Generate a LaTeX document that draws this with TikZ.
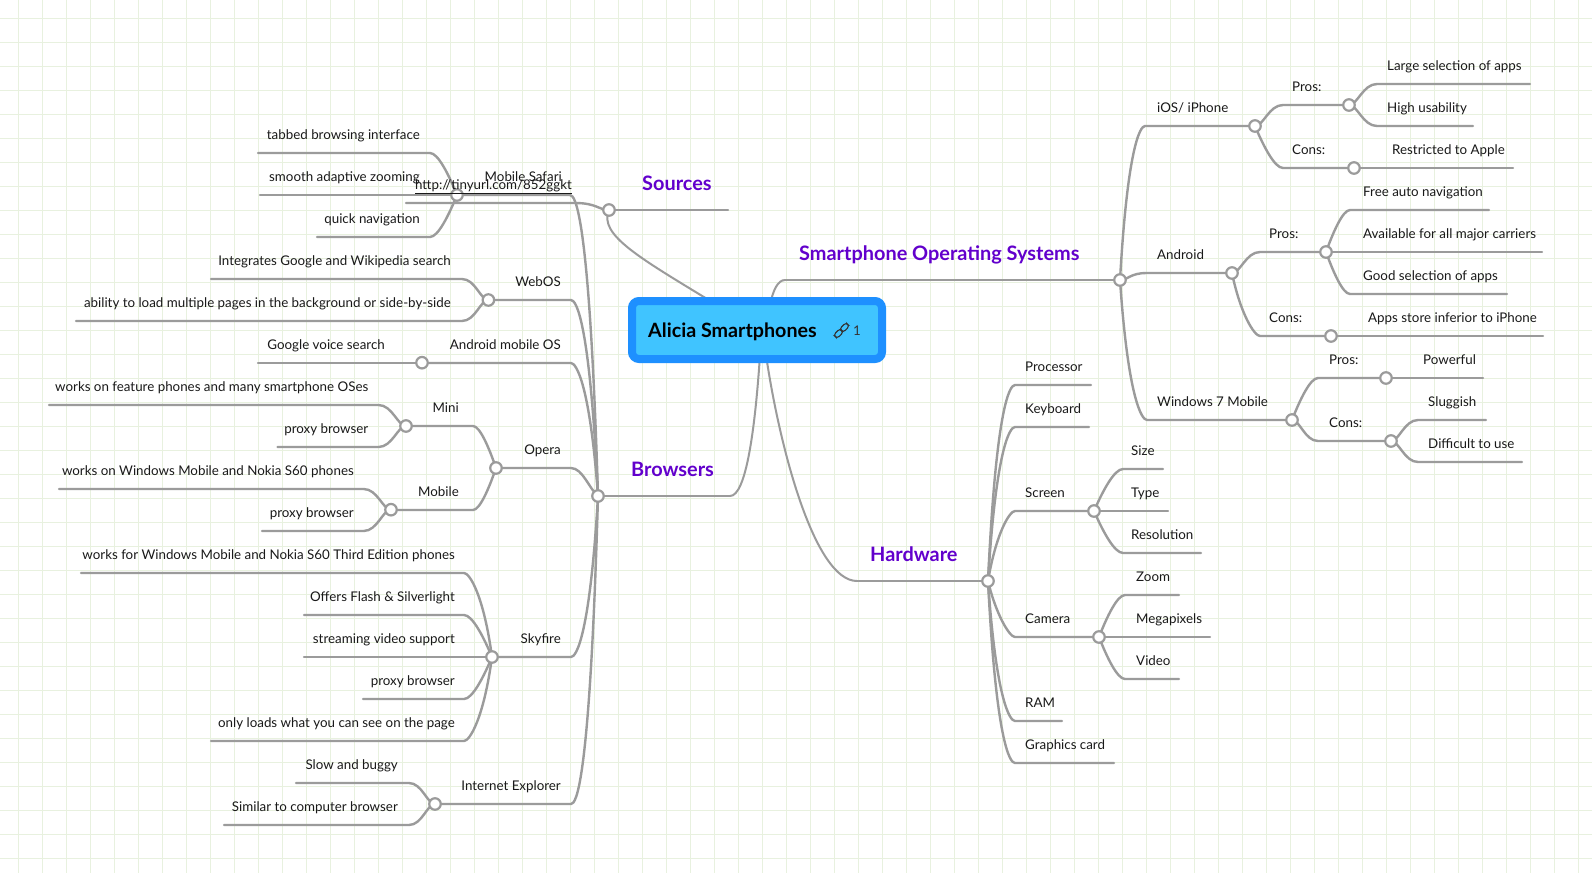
\documentclass[tikz,border=0pt]{standalone}
\usepackage{fontspec}
\setmainfont{Lato}
\usetikzlibrary{calc}
\pgfdeclarelayer{lines}
\pgfsetlayers{lines,main}
\definecolor{gridcol}{HTML}{E8F1DF}
\definecolor{linecol}{HTML}{9B9B9B}
\definecolor{topiccol}{HTML}{6200CC}
\definecolor{rootout}{HTML}{1E90FF}
\definecolor{rootin}{HTML}{40C4FF}
\tikzstyle{gridline}=[
        draw=gridcol,
        line width=1pt
]
\tikzstyle{branch}=[
        draw=linecol,
        line width=2.4pt,
        line cap=round
]
\tikzstyle{rootbranch}=[
        draw=linecol,
        line width=2pt
]
\tikzstyle{hub}=[
        circle,
        draw=linecol,
        fill=white,
        line width=2.2pt,
        inner sep=0pt,
        minimum size=11.5pt
]
\tikzstyle{leaf}=[
        inner sep=0pt,
        text=black!90,
        font=\fontsize{13.35}{16}\selectfont
]
\tikzstyle{topic}=[
        inner sep=0pt,
        text=topiccol,
        font=\fontsize{19.9}{22}\selectfont\bfseries
]
\tikzstyle{rootbox}=[
        rounded corners=7pt,
        draw=rootout,
        fill=rootin,
        line width=8pt,
        minimum width=250pt,
        minimum height=58pt
]
\tikzstyle{chainlink}=[
        rounded corners=2.8pt,
        draw=black!80,
        line width=1.1pt,
        minimum width=9pt,
        minimum height=5pt,
        inner sep=0pt
]
\tikzset{
    curved/.style={to path={
        let \p1=(\tikztostart), \p2=(\tikztotarget),
            \n1={(\y2-\y1)-sign(\y2-\y1)*min(22,abs(\y2-\y1))},
            \n2={max(0.2,0.7-abs(\y2-\y1)/105)} in
        .. controls ({\x1+0.3*(\x2-\x1)},{\y1+\n1*1pt}) and ({\x2-\n2*(\x2-\x1)},\y2) .. (\tikztotarget)}}
}
\begin{document}
\begin{tikzpicture}[x=1pt,y=-1pt]
    \useasboundingbox (0,0) rectangle (1592,873);

    \begin{pgfonlayer}{lines}
        \fill[white] (0,0) rectangle (1592,873);
        \foreach \i in {0,...,65} {
            \draw[gridline] ({18.3+24*\i},0) -- ({18.3+24*\i},873);
        }
        \foreach \i in {0,...,35} {
            \draw[gridline] (0,{18.3+24*\i}) -- (1592,{18.3+24*\i});
        }
    \end{pgfonlayer}

    \node[rootbox] (root) at (757,330) {};
    \node[anchor=base west, inner sep=0pt, font=\fontsize{19.7}{24}\selectfont\bfseries] (title) at (648,337) {Alicia Smartphones};
    \node[chainlink, rotate=45] (link1) at (838.5,333.5) {};
    \node[chainlink, rotate=45] (link2) at (844.5,327.5) {};
    \node[anchor=base west, inner sep=0pt, text=black!80, font=\fontsize{13.35}{16}\selectfont] (count) at (853,335) {1};

    % hubs
    \foreach \nm/\x/\y in {hos/1120/280, hios/1255/126, hipros/1349/105, hicons/1354/168,
                           hand/1232/273, hapros/1326/252, hacons/1331/336,
                           hwin/1292/420, hwpros/1386/378, hwcons/1391/441,
                           hhw/988/581, hscr/1094/511, hcam/1099/637,
                           hsrc/609/210, hbr/598/496, hsaf/457/195, hweb/488.4/300,
                           hgoog/422/362.7, hop/496/468, hmini/406/426, hmob/391/509.7,
                           hsky/492/657, hie/435/804} {
        \node[hub] (\nm) at (\x,\y) {};
    }

    % topics
    \node[topic, anchor=base west] (sources) at (642,190) {Sources};
    \node[topic, anchor=base west] (osys) at (799,260) {Smartphone Operating Systems};
    \node[topic, anchor=base west] (browsers) at (631,476) {Browsers};
    \node[topic, anchor=base west] (hardware) at (870,561) {Hardware};

    \coordinate (srcend) at (728,210);
    \coordinate (osa) at (785,280);
    \coordinate (bra) at (730,496);
    \coordinate (hwa) at (857,581);

    \begin{pgfonlayer}{lines}
        \draw[branch] (hsrc.center) -- (srcend);
        \draw[rootbranch] (hsrc.center) .. controls (598,235) and (640,258) .. ([xshift=-40pt,yshift=-8pt]root.north);
        \draw[rootbranch] ([xshift=13pt,yshift=-8pt]root.north) .. controls (773,290) and (778,280) .. (osa);
        \draw[branch] (osa) -- (hos.center);
        \draw[rootbranch] ([xshift=3pt,yshift=8pt]root.south) .. controls (755,430) and (746,496) .. (bra);
        \draw[branch] (bra) -- (hbr.center);
        \draw[rootbranch] ([xshift=9pt,yshift=8pt]root.south) .. controls (780,450) and (815,581) .. (hwa);
        \draw[branch] (hwa) -- (hhw.center);
    \end{pgfonlayer}

    % branches and their texts
    \foreach \nm/\up/\ax/\ay/\ex/\side/\tx/\txt in {
        ios/hos/1145/126/1255/west/1157/{iOS/ iPhone},
        ipros/hios/1283/105/1349/west/1292/Pros:,
        ilarge/hipros/1377/84/1530/west/1387/Large selection of apps,
        iusab/hipros/1377/126/1473/west/1387/High usability,
        icons/hios/1283/168/1354/west/1292/Cons:,
        irestr/hicons/1354/168/1513/west/1392/Restricted to Apple,
        and/hos/1147/273/1232/west/1157/Android,
        apros/hand/1260/252/1326/west/1269/Pros:,
        afree/hapros/1350/210/1489/west/1363/Free auto navigation,
        avail/hapros/1326/252/1542/west/1363/Available for all major carriers,
        agood/hapros/1350/294/1507/west/1363/Good selection of apps,
        acons/hand/1260/336/1331/west/1269/Cons:,
        astore/hacons/1331/336/1543/west/1368/Apps store inferior to iPhone,
        win/hos/1147/420/1292/west/1157/Windows 7 Mobile,
        wpros/hwin/1318/378/1386/west/1329/Pros:,
        wpow/hwpros/1386/378/1483/west/1423/Powerful,
        wcons/hwin/1318/441/1391/west/1329/Cons:,
        wslug/hwcons/1418/420/1486/west/1428/Sluggish,
        wdiff/hwcons/1418/462/1522/west/1428/Difficult to use,
        proc/hhw/1015/385/1091/west/1025/Processor,
        keyb/hhw/1015/427/1089/west/1025/Keyboard,
        scr/hhw/1015/511/1094/west/1025/Screen,
        ssize/hscr/1123/469/1163/west/1131/Size,
        stype/hscr/1094/511/1168/west/1131/Type,
        sres/hscr/1123/553/1201/west/1131/Resolution,
        cam/hhw/1015/637/1099/west/1025/Camera,
        czoom/hcam/1125/595/1179/west/1136/Zoom,
        cmega/hcam/1099/637/1210/west/1136/Megapixels,
        cvid/hcam/1125/679/1179/west/1136/Video,
        ram/hhw/1015/721/1062/west/1025/RAM,
        gfx/hhw/1015/763/1114/west/1025/Graphics card,
        url/hsrc/575/203/406/east/572/{\underline{http://tinyurl.com/852ggkt}},
        saf/hbr/570/195/457/east/562/Mobile Safari,
        stab/hsaf/430/153/258/east/420/tabbed browsing interface,
        szoom/hsaf/457/195/260/east/420/smooth adaptive zooming,
        snav/hsaf/430/237/317/east/420/quick navigation,
        web/hbr/571/300/488.4/east/561/WebOS,
        wint/hweb/462/279/211/east/451/Integrates Google and Wikipedia search,
        wload/hweb/462/321/76/east/451/ability to load multiple pages in the background or side-by-side,
        goog/hbr/571/363/422/east/561/Android mobile OS,
        gvoi/hgoog/422/363/258/east/385/Google voice search,
        oper/hbr/571/468/496/east/561/Opera,
        mini/hop/473/426/406/east/459/Mini,
        mfeat/hmini/378.5/405/49/east/368.5/works on feature phones and many smartphone OSes,
        mprox/hmini/378.5/447/277.5/east/368.5/proxy browser,
        mob/hop/473/510/391/east/459/Mobile,
        bwin/hmob/363.7/489/59/east/354/works on Windows Mobile and Nokia S60 phones,
        bprox/hmob/363.7/531/262/east/354/proxy browser,
        sky/hbr/571/657/492/east/561/Skyfire,
        kwin/hsky/464/573/81/east/455/works for Windows Mobile and Nokia S60 Third Edition phones,
        koff/hsky/464/615/304/east/455/Offers Flash \& Silverlight,
        kstr/hsky/492/657/304/east/455/streaming video support,
        kprox/hsky/464/699/363/east/455/proxy browser,
        konl/hsky/464/741/211/east/455/only loads what you can see on the page,
        ie/hbr/571/804/435/east/561/Internet Explorer,
        eslow/hie/409/783/296/east/398/Slow and buggy,
        esim/hie/409/825/224/east/398/Similar to computer browser%
    } {
        \coordinate (a\nm) at (\ax,\ay);
        \coordinate (e\nm) at (\ex,\ay);
        \node[leaf, anchor=base \side] (\nm) at (\tx,\ay-14) {\txt};
        \begin{pgfonlayer}{lines}
            \draw[branch] (\up.center) to[curved] (a\nm) -- (e\nm);
        \end{pgfonlayer}
    }
\end{tikzpicture}
\end{document}
